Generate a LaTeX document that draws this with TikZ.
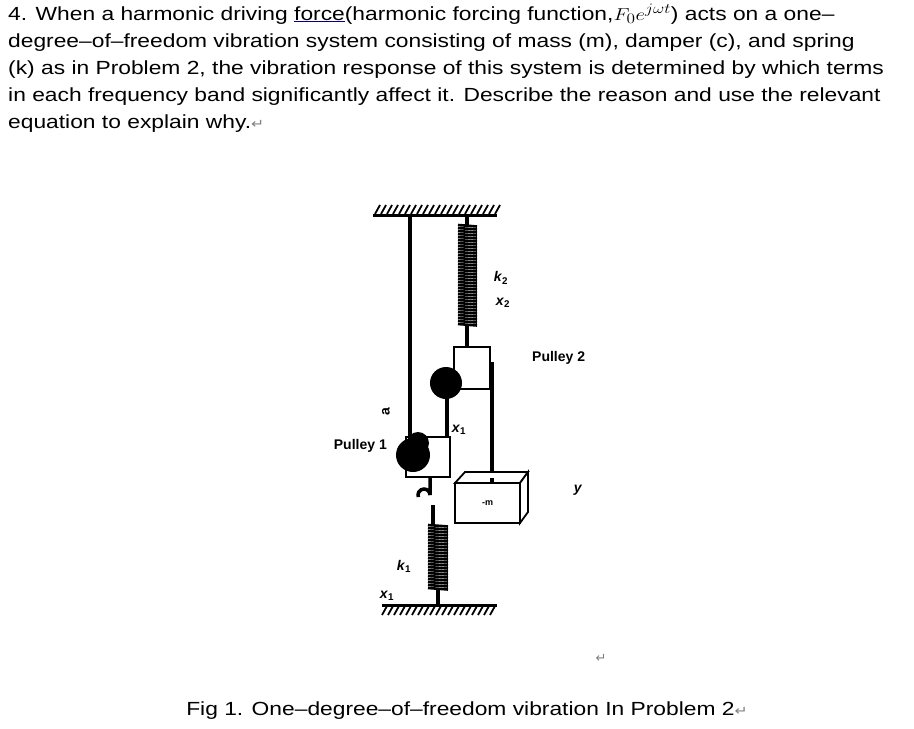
\documentclass[tikz,border=0pt]{standalone}
\usepackage{fontspec}
\setmainfont{Liberation Sans}
\newfontfamily\dv{DejaVu Sans}
\begin{document}
\begin{tikzpicture}[x=1pt,y=-1pt,
  txt/.style={anchor=base west,inner sep=0,font=\fontsize{19}{20}\selectfont},
  lbl/.style={inner sep=0,font=\bfseries\fontsize{14}{15}\selectfont},
  rope/.style={line width=4.5pt},
  coil/.style={line width=2.6pt},
  ground/.style={line width=3pt}]
\path[use as bounding box] (0,0) rectangle (914,729);
\def\ret{{\dv\fontsize{13}{14}\selectfont\color{gray}↵}}
\def\sx#1{\scalebox{1.2}[1]{#1}}
\def\lv#1#2{\textit{#1}\textsubscript{#2}}
\node[txt] (l1) at (8,20) {\sx{4. When a harmonic driving {\color{blue!50!black}\underline{\color{black}force}}(harmonic forcing function,$F_0e^{j\omega t}$) acts on a one–}};
\node[txt] (l2) at (8,47) {\sx{degree–of–freedom vibration system consisting of mass (m), damper (c), and spring}};
\node[txt] (l3) at (8,74) {\sx{(k) as in Problem 2, the vibration response of this system is determined by which terms}};
\node[txt] (l4) at (8,101) {\sx{in each frequency band significantly affect it. Describe the reason and use the relevant}};
\node[txt] (l5) at (8,128) {\sx{equation to explain why.\ret}};
% ceiling
\draw[ground] (373,215) coordinate (c1) -- (497,215) coordinate (c2);
\foreach \x in {375,381,...,495} \draw[line width=1.8pt] (\x,214) -- (\x+5,205);
% floor
\draw[ground] (382,605) coordinate (f1) -- (497,605) coordinate (f2);
\foreach \x in {382,388,...,494} \draw[line width=1.8pt] (\x,615) -- (\x+5,606);
% spring k2
\draw[rope] (467,215) -- (467,225);
\foreach \y in {225,228,...,324} \draw[coil] (458,\y) -- (477,\y+1.5);
\draw[rope] (467,324) -- (467,348);
% left rope
\draw[rope] (410,215) -- (410,445);
% pulley 2
\node[draw,line width=2pt,fill=white,minimum width=36pt,minimum height=42pt,inner sep=0] (p2) at (472,368) {};
\draw[line width=2pt,fill=black] (446,383) circle (15);
\fill[white] (478,380) circle (4);
\draw[rope] (447,397) -- (447,445);
\draw[rope] (492,362) -- (492,478);
% pulley 1
\node[draw,line width=2pt,fill=white,minimum width=44pt,minimum height=40pt,inner sep=0] (p1) at (428,457) {};
\draw[line width=2pt,fill=black] (413,455) circle (16);
\fill (418,443) circle (11);
\fill[white] (440,462) circle (4);
% hook
\draw[line width=3.5pt] (430,477) -- (430,495) arc (0:-200:6);
\draw[rope] (433,505) -- (433,525);
% spring k1
\foreach \y in {525,528,...,590} \draw[coil] (428,\y) -- (448,\y+1.5);
\draw[rope] (438,590) -- (438,605);
% mass
\draw[line width=1.8pt,fill=white] (465,472) -- (528,472) -- (520,483) -- (455,483) -- cycle;
\draw[line width=1.8pt,fill=white] (528,472) -- (528,512) -- (520,523) -- (520,483) -- cycle;
\node[draw,line width=1.8pt,fill=white,minimum width=65pt,minimum height=40pt,inner sep=0,font=\bfseries\fontsize{9}{9}\selectfont] (m) at (487.5,503) {-m};
\draw[rope] (492,478) -- (492,483);
% labels
\node[lbl] (k2) at (501,278) {\lv{k}{2}};
\node[lbl] (x2) at (503,303) {\lv{x}{2}};
\node[lbl,anchor=west] (pl2) at (532,358) {Pulley 2};
\node[lbl,anchor=east] (pl1) at (387,446) {Pulley 1};
\node[lbl,rotate=90] (a) at (386,412) {a};
\node[lbl] (x1b) at (459,430) {\lv{x}{1}};
\node[lbl] (k1) at (404,566) {\lv{k}{1}};
\node[lbl] (x1) at (387,596) {\lv{x}{1}};
\node[lbl] (y) at (578,490) {\textit{y}};
\node (r) at (601,658) {\ret};
\node[txt,anchor=base] (cap) at (467,715) {\sx{Fig 1. One–degree–of–freedom vibration In Problem 2\ret}};
\end{tikzpicture}
\end{document}
